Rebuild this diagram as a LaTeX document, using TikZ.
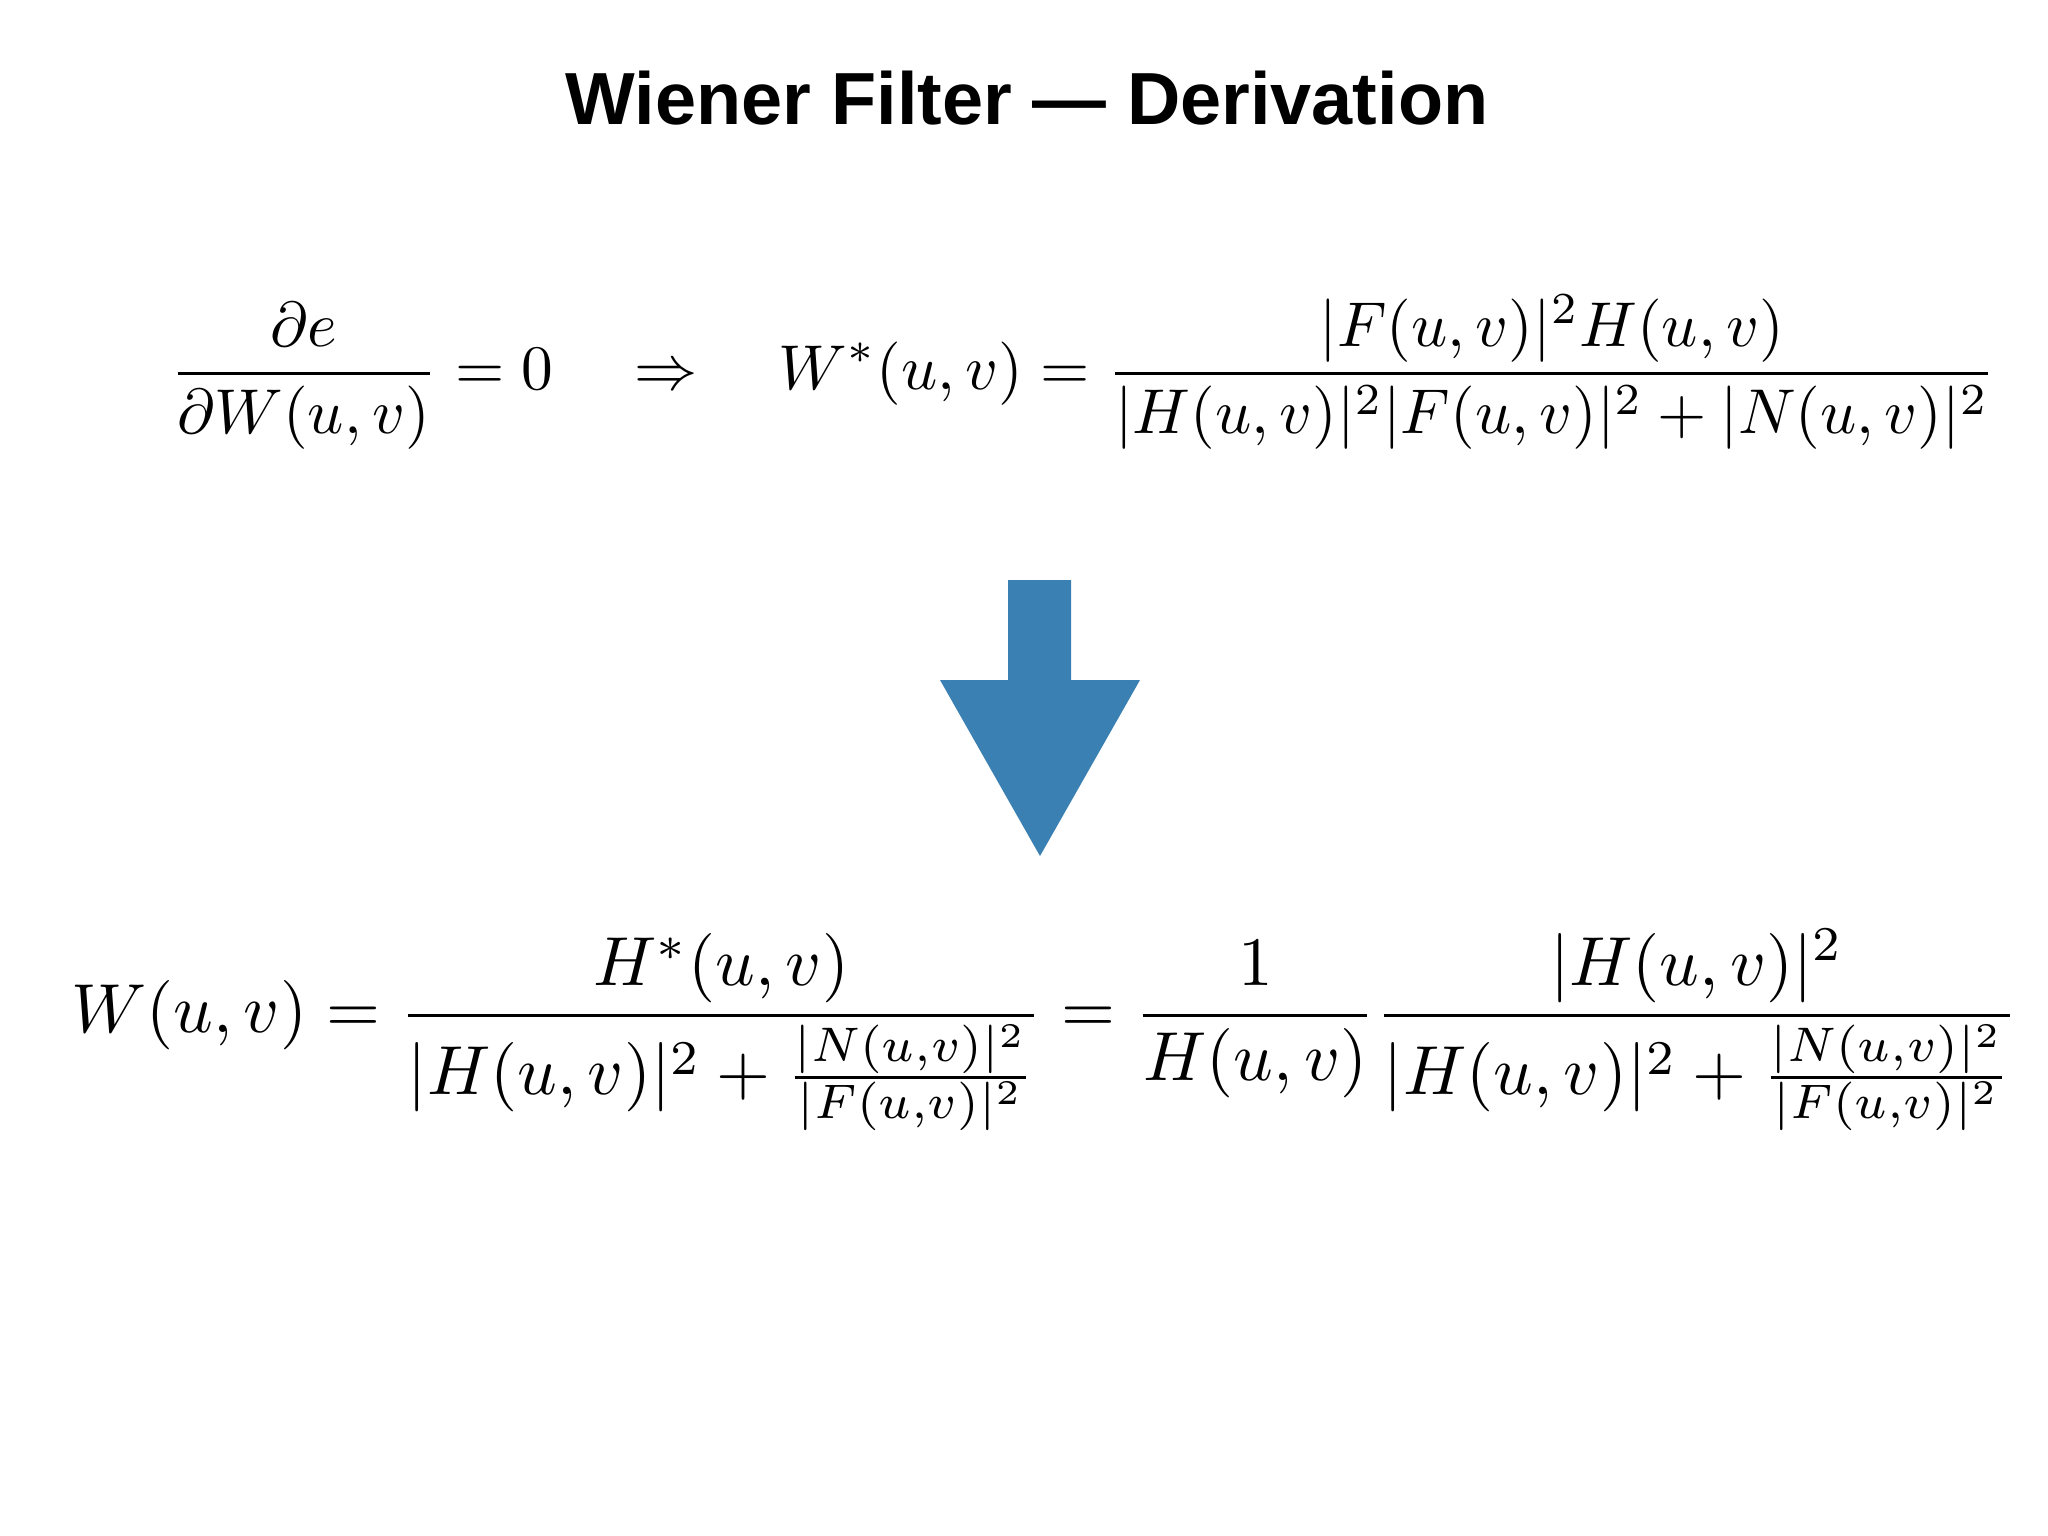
\documentclass[tikz,border=0pt]{standalone}
\usepackage{amsmath}
\usepackage{graphicx}
\usepackage{fontspec}
\setmainfont{Liberation Sans}
\definecolor{arrowblue}{HTML}{3A80B2}
\tikzset{eq/.style={inner sep=0pt,anchor=center}}
\begin{document}
\begin{tikzpicture}[x=0.01cm,y=-0.01cm]
\useasboundingbox (0,0) rectangle (2048,1536);
\node[eq,font=\bfseries\fontsize{21}{25}\selectfont] (title) at (1027,98) {Wiener Filter — Derivation};
\node[eq] (eq1) at (1083,372) {\resizebox{18.25cm}{!}{$\displaystyle \frac{\partial e}{\partial W(u,v)}=0 \quad\Rightarrow\quad W^{*}(u,v)=\frac{|F(u,v)|^{2}H(u,v)}{|H(u,v)|^{2}|F(u,v)|^{2}+|N(u,v)|^{2}}$}};
\fill[arrowblue] (1008,580) -- (1071,580) -- (1071,680) -- (1140,680) -- (1040,856) -- (940,680) -- (1008,680) -- cycle;
\node[eq] (eq2) at (1045,1030) {\resizebox{19.46cm}{!}{$\displaystyle W(u,v)=\frac{H^{*}(u,v)}{|H(u,v)|^{2}+\frac{|N(u,v)|^{2}}{|F(u,v)|^{2}}}=\frac{1}{H(u,v)}\frac{|H(u,v)|^{2}}{|H(u,v)|^{2}+\frac{|N(u,v)|^{2}}{|F(u,v)|^{2}}}$}};
\end{tikzpicture}
\end{document}
